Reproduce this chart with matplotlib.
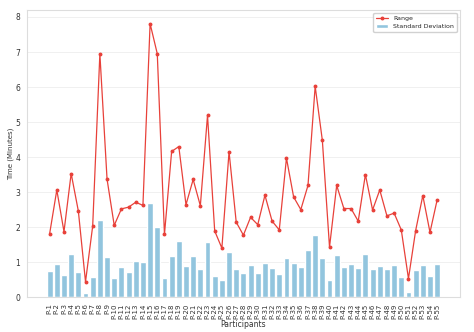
import matplotlib
matplotlib.use("Agg")
import matplotlib.pyplot as plt
import seaborn as sns

participants = [f"P-{i}" for i in range(1, 56)]

range_vals = [1.81, 3.06, 1.87, 3.53, 2.46, 0.44, 2.03, 6.95, 3.37, 2.05,
              2.52, 2.57, 2.71, 2.62, 7.81, 6.95, 1.79, 4.16, 4.30, 2.64,
              3.36, 2.61, 5.19, 1.89, 1.40, 4.15, 2.14, 1.77, 2.28, 2.07,
              2.91, 2.17, 1.92, 3.97, 2.86, 2.50, 3.19, 6.02, 4.48, 1.43,
              3.19, 2.53, 2.53, 2.17, 3.50, 2.49, 3.06, 2.32, 2.40, 1.92,
              0.53, 1.90, 2.90, 1.85, 2.78]

std_vals = [0.76, 0.95, 0.62, 1.22, 0.73, 0.12, 0.58, 2.19, 1.16, 0.54,
            0.85, 0.73, 1.03, 1.01, 2.68, 2.00, 0.54, 1.17, 1.59, 0.90,
            1.17, 0.79, 1.57, 0.60, 0.50, 1.28, 0.81, 0.69, 0.92, 0.69,
            0.98, 0.82, 0.67, 1.13, 0.97, 0.86, 1.36, 1.77, 1.11, 0.48,
            1.21, 0.86, 0.94, 0.82, 1.23, 0.79, 0.89, 0.80, 0.91, 0.57,
            0.15, 0.77, 0.92, 0.60, 0.94]

sns.set_style("whitegrid")
plt.rcParams['font.family'] = ['DejaVu Sans']

fig = plt.figure(figsize=(4.74, 3.32), dpi=100)
ax = fig.add_axes([0.057, 0.105, 0.913, 0.865])

ax.bar(participants, std_vals, color="#92c5de", width=0.82, label="Standard Deviation", zorder=2)
ax.plot(participants, range_vals, color="#e8413a", marker="o", markersize=1.8,
        linewidth=0.9, label="Range", zorder=3)

ax.set_xlabel("Participants", fontsize=5.5, labelpad=1, color="#333333")
ax.set_ylabel("Time (Minutes)", fontsize=5, labelpad=1, color="#333333")
ax.tick_params(axis="x", labelsize=5, rotation=90, pad=1, colors="#333333")
ax.tick_params(axis="y", labelsize=5.5, pad=1.5, colors="#333333")
ax.grid(axis="x", visible=False)
ax.grid(axis="y", color="#eeeeee", linewidth=0.6)
for s in ax.spines.values():
    s.set_color("#dddddd")
    s.set_linewidth(0.8)

ax.legend(loc="upper right", fontsize=4.5, frameon=True, framealpha=0.9)

fig.savefig("out.png", dpi=100)
